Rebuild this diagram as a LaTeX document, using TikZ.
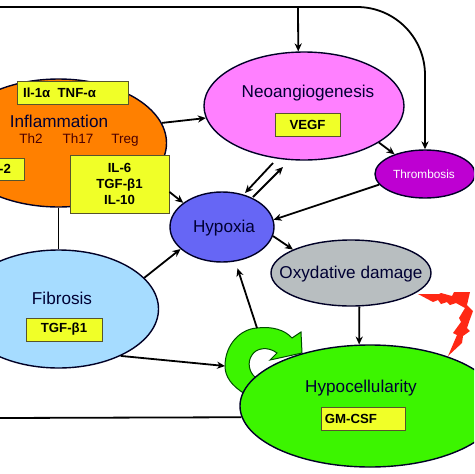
\documentclass[tikz,border=0pt]{standalone}
\usepackage{fontspec}
\setmainfont{Liberation Sans}
\usetikzlibrary{calc, positioning, arrows.meta, shapes.geometric}
\definecolor{inflcol}{RGB}{255,128,0}
\definecolor{neocol}{RGB}{255,128,255}
\definecolor{thrombcol}{RGB}{190,0,210}
\definecolor{hypoxcol}{RGB}{102,102,245}
\definecolor{oxycol}{RGB}{184,190,192}
\definecolor{fibrocol}{RGB}{166,220,255}
\definecolor{hypocol}{RGB}{60,245,0}
\definecolor{boxcol}{RGB}{240,255,40}
\definecolor{boltcol}{RGB}{255,40,20}

\begin{document}
\begin{tikzpicture}[x=0.25mm, y=-0.25mm,
        blob/.style={draw=black!85!blue, ellipse, line width=0.35mm, inner sep=0pt},
        ybox/.style={draw=black!50!olive, rectangle, fill=boxcol, line width=0.2mm, inner sep=0pt, align=center, font=\fontsize{9.4}{11.4}\selectfont\bfseries},
        lbl/.style={font=\fontsize{12.2}{14}\selectfont, text=black!80!blue, inner sep=0pt},
        sublbl/.style={font=\fontsize{9.6}{11}\selectfont, text=black!70!red, inner sep=0pt},
        arrow/.style={-{Stealth[length=2mm, width=1.8mm]}, line width=0.45mm, rounded corners=17mm},
        link/.style={line width=0.45mm}
    ]
        \useasboundingbox (0,0) rectangle (474,474);
        \clip (0,0) rectangle (474,474);

        % Frame coordinates
        \coordinate (top_w) at (0,7);
        \coordinate (top_b) at (298,7);
        \coordinate (bot_w) at (0,418);

        % Green curl, under the big ellipse
        \coordinate (curl_w) at (225,366);
        \coordinate (curl_n) at (257,328);
        \fill[hypocol, draw=black!70!green, line width=0.25mm]
            (245,394) .. controls (232,386) and (225,377) .. (curl_w)
            .. controls (225,345) and (240,329) .. (curl_n)
            .. controls (272,326) and (285,330) .. (292,338)
            -- (301,332) -- (302,353) -- (270,360) -- (277,353)
            .. controls (268,346) and (256,348) .. (252,355)
            .. controls (247,362) and (249,372) .. (255,377) -- cycle;

        % Nodes
        \node[blob, fill=inflcol, minimum width=54mm, minimum height=32mm] (infl) at (58.5,143) {};
        \node[blob, fill=neocol, minimum width=50mm, minimum height=27mm] (neo) at (304,106) {};
        \node[blob, fill=thrombcol, minimum width=25mm, minimum height=12mm] (thromb) at (425,174) {};
        \node[blob, fill=hypoxcol, minimum width=26mm, minimum height=17.5mm] (hypox) at (222,227) {};
        \node[blob, fill=oxycol, minimum width=40mm, minimum height=16.5mm] (oxy) at (351,273) {};
        \node[blob, fill=fibrocol, minimum width=50mm, minimum height=29.5mm] (fibro) at (58.5,309) {};
        \node[blob, fill=hypocol, minimum width=65mm, minimum height=30.5mm] (hypo) at (370,406) {};

        % Labels
        \node[lbl] (infl_t) at (59,121) {Inflammation};
        \node[sublbl] (th2) at (31,139) {Th2};
        \node[sublbl] (th17) at (78,139) {Th17};
        \node[sublbl] (treg) at (125,140) {Treg};
        \node[lbl] (neo_t) at (308,93) {Neoangiogenesis};
        \node[font=\fontsize{8.4}{10}\selectfont, text=white, inner sep=0pt] (thromb_t) at (424,174) {Thrombosis};
        \node[lbl] (hypox_t) at (224,228) {Hypoxia};
        \node[lbl] (oxy_t) at (351,274) {Oxydative damage};
        \node[lbl] (fibro_t) at (62,298) {Fibrosis};
        \node[lbl] (hypo_t) at (361,388) {Hypocellularity};

        % Yellow boxes
        \node[ybox, minimum width=27.75mm, minimum height=5.75mm] (box_il1) at (72.5,92.5) {Il-1α\ \ TNF-α\hspace{6.5mm}};
        \node[ybox, minimum width=9.5mm, minimum height=5.5mm] (box_il2) at (5,169) {-2};
        \node[ybox, minimum width=24.75mm, minimum height=14.5mm] (box_il6) at (119.5,184) {IL-6\\TGF-β1\\IL-10};
        \node[ybox, minimum width=16.25mm, minimum height=5.75mm] (box_vegf) at (307.5,124.5) {VEGF};
        \node[ybox, minimum width=19mm, minimum height=5.75mm] (box_tgf) at (64,329.5) {TGF-β1};
        \node[ybox, minimum width=21mm, minimum height=5.75mm] (box_gm) at (363,418.5) {GM-CSF\hspace{6mm}};

        % Frame lines
        \draw[arrow] (top_w) -| (thromb.north);
        \draw[arrow] (top_b) -- (neo.96);
        \draw[link] (bot_w) -- (hypo.185);
        \draw[link] (infl.south) -- (fibro.north);

        % Paired arrows, they stand off from both ellipses
        \coordinate (neo_a) at (273,163);
        \coordinate (hypox_a) at (245,193);
        \coordinate (hypox_b) at (253,197);
        \coordinate (neo_b) at (283,167);
        \draw[arrow] (neo_a) -- (hypox_a);
        \draw[arrow] (hypox_b) -- (neo_b);

        % Other connectors
        \draw[arrow] (infl.11) -- (neo.187);
        \draw[arrow] (box_il6.-9) -- (hypox.148);
        \draw[arrow] (neo.-26) -- (thromb.147);
        \draw[arrow] (thromb.193) -- (hypox.8);
        \draw[arrow] (hypox.-10) -- (oxy.158);
        \draw[arrow] (oxy.-76) -- (hypo.100);
        \draw[arrow] (fibro.20) -- (hypox.208);
        \draw[arrow] (fibro.-37) -- (curl_w);
        \draw[arrow, shorten >=1.8mm] (curl_n) -- (hypox.-69);

        % Lightning
        \fill[boltcol] (418,294) -- (439,294) -- (441,293) -- (452,296) -- (454,292) -- (470,292)
            -- (467,305) -- (473,311) -- (469,322) -- (467,328) -- (470,331) -- (463,336) -- (462,343)
            -- (448,356) -- (454,342) -- (457,335) -- (453,333) -- (461,322) -- (459,318) -- (465,308)
            -- (456,303) -- (450,305) -- (447,302) -- (441,304) -- (438,300) -- (433,302) -- cycle;
    \end{tikzpicture}
\end{document}
